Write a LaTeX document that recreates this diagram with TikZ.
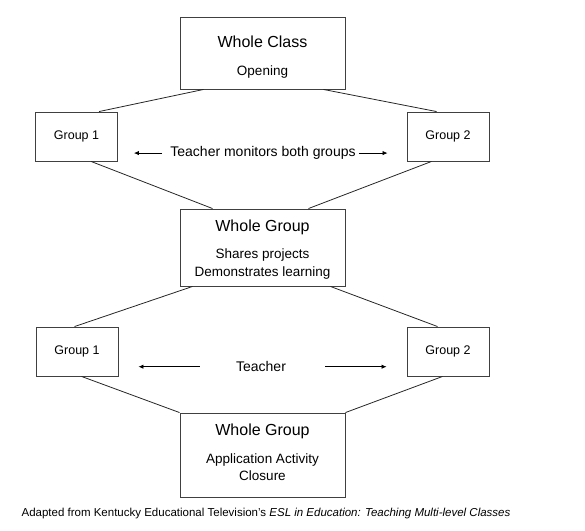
\documentclass[tikz,border=0pt]{standalone}
\usepackage{fontspec}
\setmainfont{Liberation Sans}
\usetikzlibrary{arrows.meta, positioning, calc}

\begin{document}
\begin{tikzpicture}[x=1pt, y=-1pt,
  box/.style={draw=black!75, line width=0.9pt, inner sep=0pt},
  bigbox/.style={box, minimum width=165pt},
  grp/.style={box, minimum width=82pt, minimum height=49pt, font=\fontsize{12.5}{15}\selectfont},
  head/.style={anchor=base, inner sep=0pt, font=\fontsize{16}{19}\selectfont},
  sub/.style={anchor=base, inner sep=0pt, align=center},
  link/.style={black!85, line width=0.8pt},
  arr/.style={-{Latex[length=5pt,width=4.5pt]}, line width=0.8pt}]
\useasboundingbox (0,0) rectangle (585,530);

% opening
\node[bigbox, minimum height=72pt] (open) at (262.5,53) {};
\node[head] (openT) at ([yshift=-31pt]open.north) {Whole Class};
\node[sub, font=\fontsize{13.5}{18}\selectfont] (openS) at ([yshift=-59pt]open.north) {Opening};

% first split
\node[grp] (g1a) at (76.5,136.5) {Group 1};
\node[grp] (g2a) at (448,136.5) {Group 2};
\node[anchor=base, inner sep=0pt, font=\fontsize{14}{17}\selectfont] (mon) at (263,156.7) {Teacher monitors both groups};
\draw[arr, shorten <=8pt, shorten >=16pt] (mon.west) -- (mon.west -| g1a.east);
\draw[arr, shorten <=3pt, shorten >=19pt] (mon.east) -- (mon.east -| g2a.west);

% sharing (base = last line)
\node[bigbox, minimum height=77pt] (share) at (262.5,247.5) {};
\node[head] (shareT) at ([yshift=-23pt]share.north) {Whole Group};
\node[sub, font=\fontsize{13.5}{18.3}\selectfont] (shareS) at ([yshift=-68.3pt]share.north) {Shares projects\\Demonstrates learning};

% second split
\node[grp] (g1b) at (77,351.5) {Group 1};
\node[grp] (g2b) at (448,351.5) {Group 2};
\node[anchor=base, inner sep=0pt, font=\fontsize{14}{17}\selectfont] (tch) at (261,371.7) {Teacher};
\draw[arr, shorten <=36pt, shorten >=20pt] (tch.west) -- (tch.west -| g1b.east);
\draw[arr, shorten <=39pt, shorten >=20pt] (tch.east) -- (tch.east -| g2b.west);

% closing
\node[bigbox, minimum height=84pt] (close) at (262.5,455) {};
\node[head] (closeT) at ([yshift=-23pt]close.north) {Whole Group};
\node[sub, font=\fontsize{13.5}{16.4}\selectfont] (closeS) at ([yshift=-67.7pt]close.north) {Application Activity\\Closure};

% connecting lines
\draw[link] ([xshift=24pt]open.south west) -- ([xshift=64pt]g1a.north west);
\draw[link] ([xshift=-22pt]open.south east) -- ([xshift=30pt]g2a.north west);
\draw[link] ([xshift=56pt]g1a.south west) -- ([xshift=33pt]share.north west);
\draw[link] ([xshift=25pt]g2a.south west) -- ([xshift=-37pt]share.north east);
\draw[link] ([xshift=13pt]share.south west) -- ([xshift=39pt]g1b.north west);
\draw[link] ([xshift=-15pt]share.south east) -- ([xshift=31pt]g2b.north west);
\draw[link] ([xshift=46pt]g1b.south west) -- (close.north west);
\draw[link] ([xshift=36pt]g2b.south west) -- (close.north east);

% source
\node[anchor=base, inner sep=0pt, font=\fontsize{11.5}{13}\selectfont] (src) at (266,516.7)
  {Adapted from Kentucky Educational Television’s \textit{ESL in Education: Teaching Multi-level Classes}};
\end{tikzpicture}
\end{document}
